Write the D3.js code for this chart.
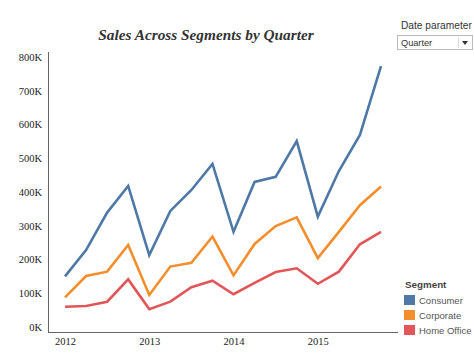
<!DOCTYPE html>
<html><head><meta charset="utf-8">
<script src="https://cdn.jsdelivr.net/npm/d3@7"></script>
<style>body{margin:0;background:#fff;}svg{display:block;}</style>
</head><body><svg id="c" width="474" height="357"></svg>
<script>
const quarters = ["2012Q1","2012Q2","2012Q3","2012Q4","2013Q1","2013Q2","2013Q3","2013Q4","2014Q1","2014Q2","2014Q3","2014Q4","2015Q1","2015Q2","2015Q3","2015Q4"];
const segments = ["Consumer","Corporate","Home Office"];
const consumer  = [150,228,339,418,213,344,406,483,282,430,445,551,327,462,569,773];
const corporate = [88,151,164,243,95,179,190,268,153,246,299,325,204,282,361,416];
const homeOffice= [60,62,75,141,53,75,118,137,97,131,163,174,128,164,245,282];
const yTicks = [0,100,200,300,400,500,600,700,800];
const yearLabels = ["2012","2013","2014","2015"];
const colors = ["#4e79a7","#f28e2b","#e15759"];
const title = "Sales Across Segments by Quarter";

const svg = d3.select("#c");
const x = d3.scalePoint().domain(quarters).range([65, 381]);
const y = d3.scaleLinear().domain([0, 800]).range([327, 57]);

// title
svg.append("text").attr("x", 206).attr("y", 40).attr("text-anchor","middle")
  .style("font-family","'Liberation Serif', 'Times New Roman', serif")
  .style("font-style","italic").style("font-weight","bold").style("font-size","15.3px")
  .attr("fill","#333").text(title);

// axes lines
svg.append("line").attr("x1",48.5).attr("x2",48.5).attr("y1",52).attr("y2",332).attr("stroke","#666").attr("stroke-width",1);
svg.append("line").attr("x1",48).attr("x2",398).attr("y1",332.5).attr("y2",332.5).attr("stroke","#666").attr("stroke-width",1);

// y axis labels
const yAxis = d3.axisLeft(y).tickValues(yTicks).tickSize(0).tickPadding(0).tickFormat(d => d + "K");
const ya = svg.append("g").attr("transform","translate(42,0)").call(yAxis);
ya.select(".domain").remove();
ya.selectAll("text").style("font-family","'Liberation Serif', 'Times New Roman', serif").style("font-size","10.5px").attr("fill","#222");

// x axis labels
const xAxis = d3.axisBottom(x).tickValues(yearLabels.map(yr => yr + "Q1")).tickSize(0).tickPadding(0)
  .tickFormat(d => d.slice(0,4));
const xa = svg.append("g").attr("transform","translate(0,338)").call(xAxis);
xa.select(".domain").remove();
xa.selectAll("text").style("font-family","'Liberation Serif', 'Times New Roman', serif").style("font-size","10.5px").attr("fill","#222");

// lines
const series = [consumer, corporate, homeOffice];
const line = d3.line().x((d,i) => x(quarters[i])).y(d => y(d));
series.forEach((s, k) => {
  svg.append("path").datum(s).attr("d", line).attr("fill","none")
    .attr("stroke", colors[k]).attr("stroke-width", 2.6).attr("stroke-linejoin","miter");
});

// date parameter control
const sans = "'Liberation Sans', Arial, sans-serif";
svg.append("text").attr("x",401).attr("y",29).style("font-family",sans).style("font-size","10.2px").attr("fill","#333").text("Date parameter");
svg.append("rect").attr("x",397.5).attr("y",35.5).attr("width",75).attr("height",14).attr("fill","#fff").attr("stroke","#bbb");
svg.append("text").attr("x",401).attr("y",46).style("font-family",sans).style("font-size","9.2px").attr("fill","#333").text("Quarter");
svg.append("line").attr("x1",458.5).attr("x2",458.5).attr("y1",37).attr("y2",48).attr("stroke","#ddd");
svg.append("path").attr("d","M462,41 L468,41 L465,45 Z").attr("fill","#333");

// legend
svg.append("text").attr("x",405).attr("y",288).style("font-family",sans).style("font-size","9.8px").style("font-weight","bold").attr("fill","#444").text("Segment");
const lg = svg.append("g").selectAll("g").data(segments).join("g")
  .attr("transform",(d,i) => `translate(404,${295 + i*15})`);
lg.append("rect").attr("width",11).attr("height",10).attr("fill",(d,i)=>colors[i]);
lg.append("text").attr("x",15).attr("y",8.5).style("font-family",sans).style("font-size","9.5px").attr("fill","#555").text(d=>d);
</script></body></html>
